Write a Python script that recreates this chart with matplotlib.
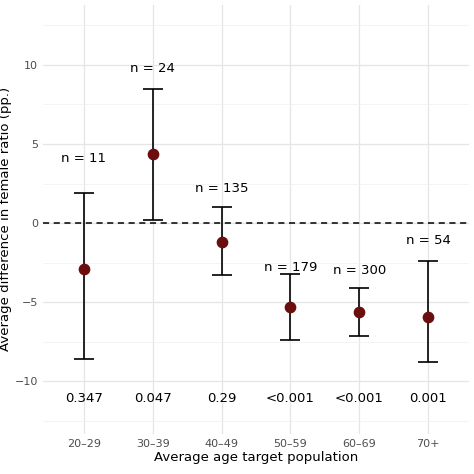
import matplotlib
matplotlib.use("Agg")
import matplotlib.pyplot as plt

cats = ["20–29", "30–39", "40–49", "50–59", "60–69", "70+"]
means = [-2.9, 4.4, -1.2, -5.3, -5.6, -5.9]
lows = [-8.6, 0.2, -3.3, -7.4, -7.1, -8.8]
highs = [1.9, 8.5, 1.0, -3.2, -4.1, -2.4]
ns = ["n = 11", "n = 24", "n = 135", "n = 179", "n = 300", "n = 54"]
n_label_y = [4.1, 9.8, 2.2, -2.8, -3.0, -1.1]
pvals = ["0.347", "0.047", "0.29", "<0.001", "<0.001", "0.001"]

fig = plt.figure(figsize=(4.74, 4.74), dpi=100)
ax = fig.add_axes([0.085, 0.085, 0.905, 0.905])
x = list(range(len(cats)))
for xi, m, lo, hi in zip(x, means, lows, highs):
    ax.errorbar(xi, m, yerr=[[m - lo], [hi - m]], fmt="none", ecolor="black",
                elinewidth=1.2, capsize=7, capthick=1.2, zorder=2)
for xi, n, ny in zip(x, ns, n_label_y):
    ax.text(xi, ny, n, ha="center", va="center", fontsize=9.5)
ax.scatter(x, means, s=55, color="#6b0e0e", zorder=3)
for xi, p in zip(x, pvals):
    ax.text(xi, -11.1, p, ha="center", va="center", fontsize=9.5)
ax.axhline(0, color="black", linestyle=(0, (4, 3)), linewidth=1.1)
ax.set_xticks(x)
ax.set_xticklabels(cats)
ax.set_yticks([-10, -5, 0, 5, 10])
ax.set_ylim(-13.3, 13.8)
ax.set_xlim(-0.6, 5.6)
ax.set_yticks([-12.5, -7.5, -2.5, 2.5, 7.5, 12.5], minor=True)
ax.grid(True, which="major", color="#e5e5e5", linewidth=0.9)
ax.grid(True, which="minor", axis="y", color="#f0f0f0", linewidth=0.5)
ax.set_axisbelow(True)
for s in ax.spines.values():
    s.set_visible(False)
ax.tick_params(length=0, labelsize=8, colors="#4d4d4d", which="both")
ax.set_xlabel("Average age target population", fontsize=9.5, labelpad=2)
ax.set_ylabel("Average difference in female ratio (pp.)", fontsize=9.5, labelpad=2)
fig.subplots_adjust(left=0.1)
ax.set_position([0.09, 0.085, 0.9, 0.905])
fig.savefig("out.png", dpi=100)
